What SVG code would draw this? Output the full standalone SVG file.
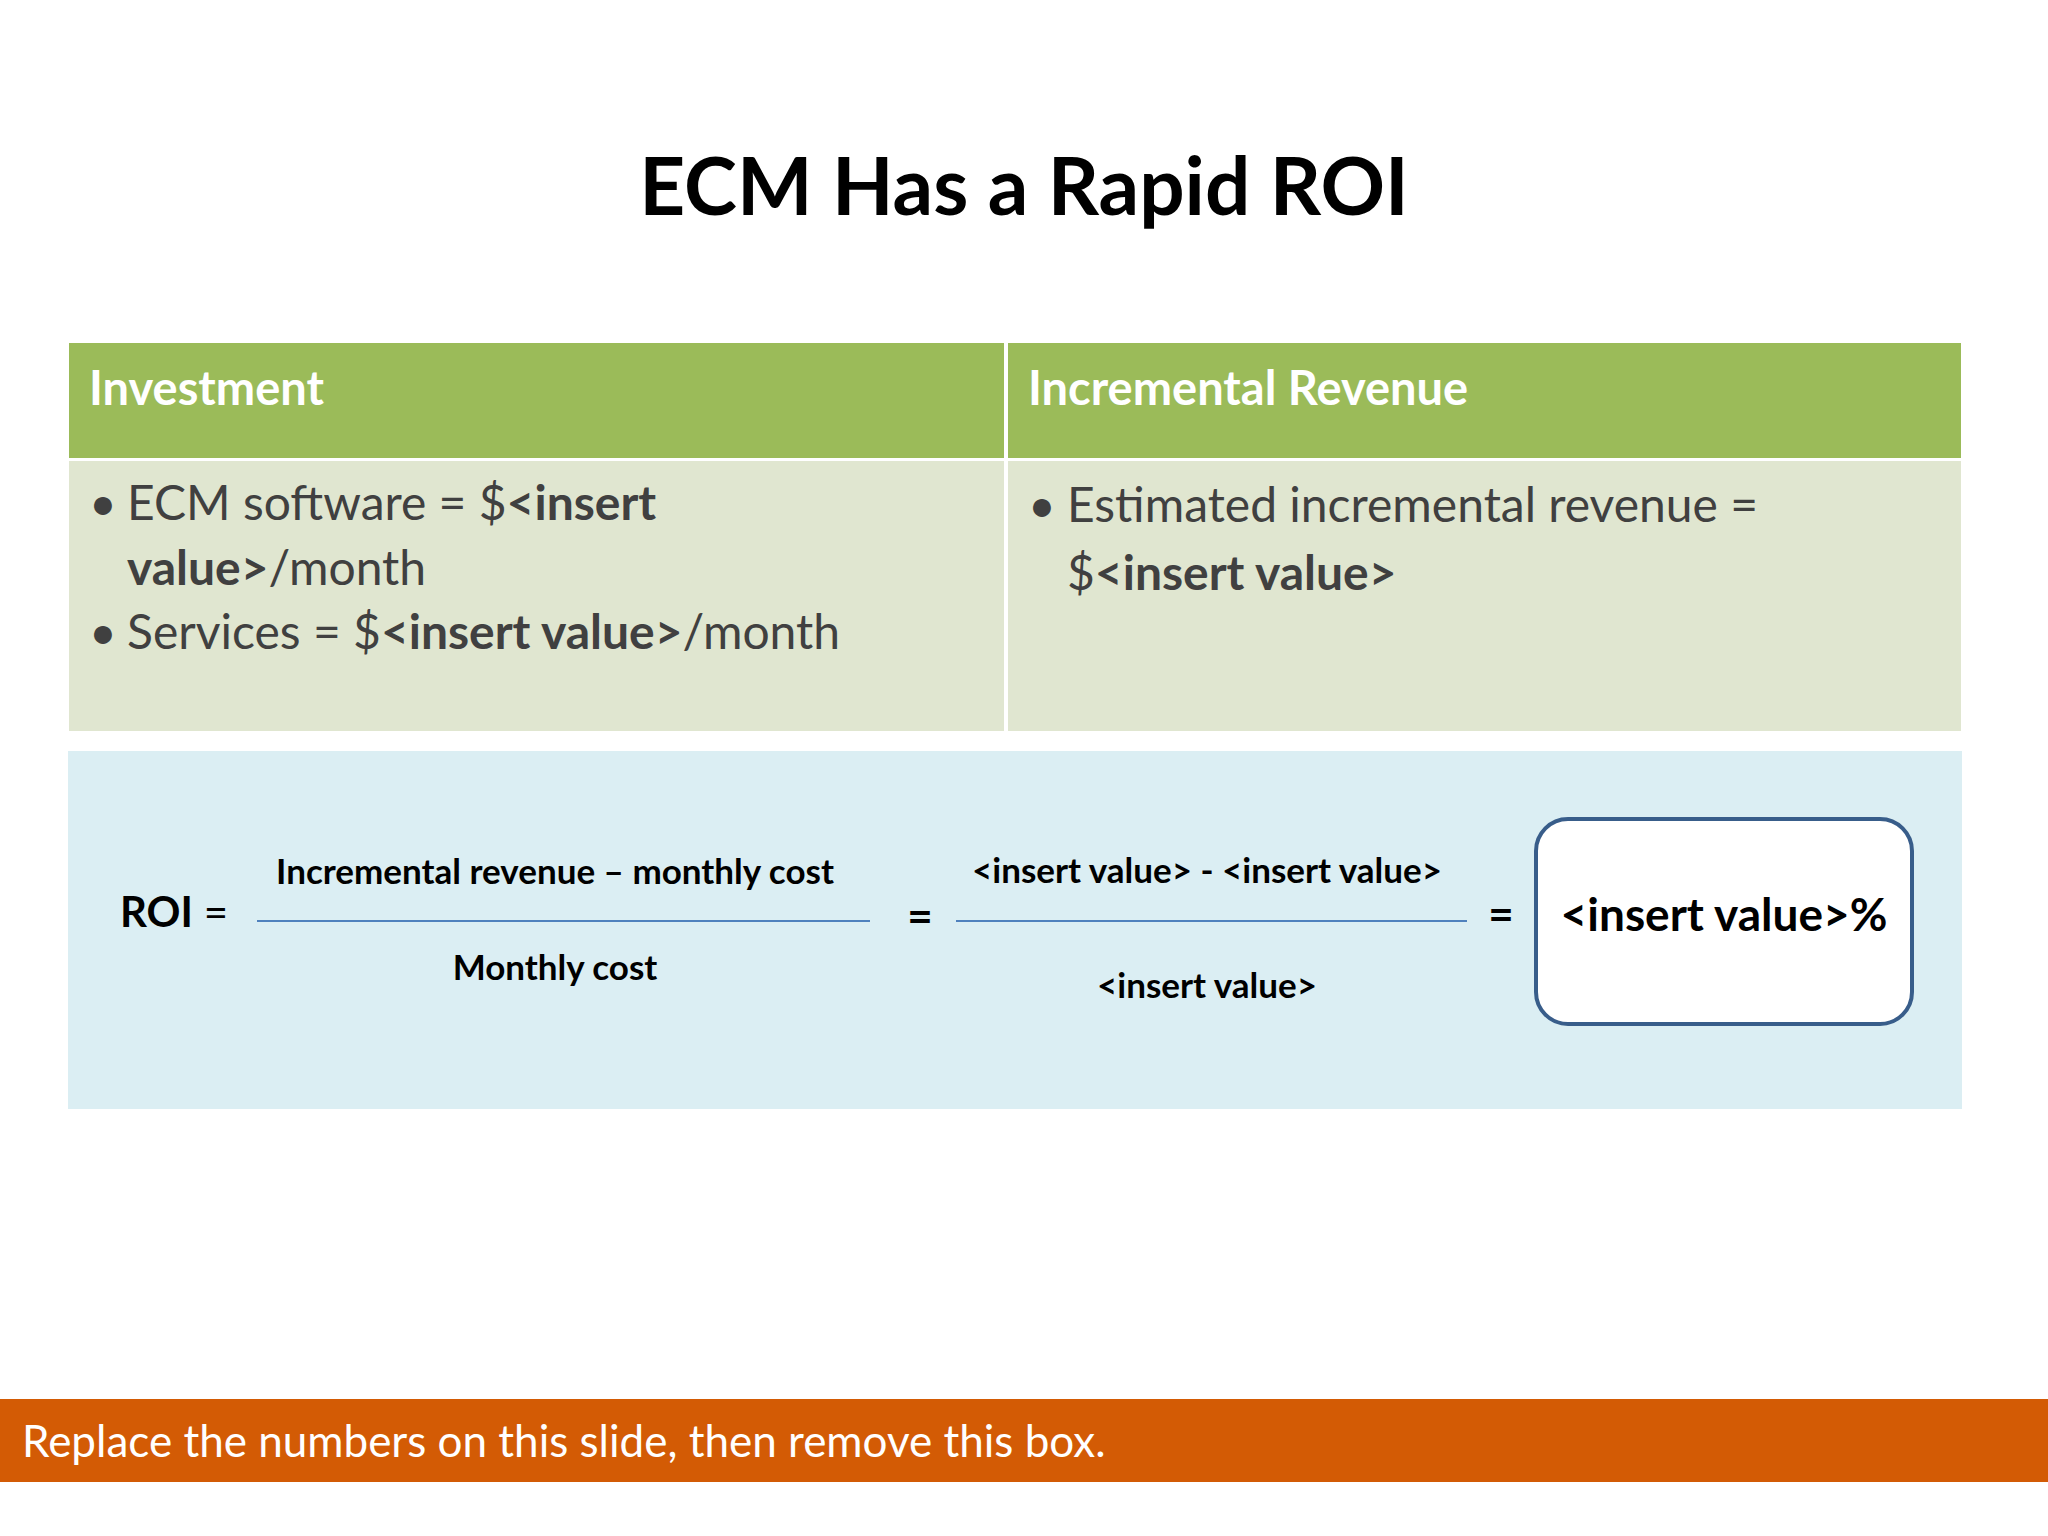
<svg xmlns="http://www.w3.org/2000/svg" width="2048" height="1536" viewBox="0 0 2048 1536">
<style>
text{font-family:Lato,"Open Sans",sans-serif}
.h{font-size:47px;font-weight:bold;fill:#fff}
.b{font-size:48px;fill:#404040}
.f{font-size:35px;font-weight:bold;fill:#000;text-anchor:middle}
.eq{font-size:44px;font-weight:bold;fill:#000;text-anchor:middle}
</style>
<rect width="2048" height="1536" fill="#fff"/>
<text x="1024" y="215" text-anchor="middle" font-size="80" font-weight="bold" fill="#000">ECM Has a Rapid ROI</text>
<g id="table">
<rect x="69" y="343" width="1892" height="388" fill="#fff"/>
<rect x="69" y="343" width="935" height="115" fill="#9BBB59"/>
<rect x="1008" y="343" width="953" height="115" fill="#9BBB59"/>
<rect x="69" y="461" width="935" height="270" fill="#E0E6D0"/>
<rect x="1008" y="461" width="953" height="270" fill="#E0E6D0"/>
<text class="h" x="89" y="405">Investment</text>
<text class="h" x="1028" y="405">Incremental Revenue</text>
<text class="b" x="89" y="520">•</text>
<text class="b" x="127" y="520">ECM software = $<tspan font-weight="bold">&lt;insert</tspan></text>
<text class="b" x="127" y="585"><tspan font-weight="bold">value&gt;</tspan>/month</text>
<text class="b" x="89" y="649">•</text>
<text class="b" x="127" y="649">Services = $<tspan font-weight="bold">&lt;insert value&gt;</tspan>/month</text>
<text class="b" x="1028" y="522">•</text>
<text class="b" x="1067" y="522">Estimated incremental revenue =</text>
<text class="b" x="1067" y="590">$<tspan font-weight="bold">&lt;insert value&gt;</tspan></text>
</g>
<g id="formula">
<rect x="68" y="751" width="1894" height="358" fill="#DBEEF3"/>
<text x="120" y="927" font-size="42" fill="#000"><tspan font-weight="bold">ROI</tspan> =</text>
<text class="f" x="555" y="884">Incremental revenue – monthly cost</text>
<line x1="257" y1="921" x2="870" y2="921" stroke="#4F81BD" stroke-width="2"/>
<text class="f" x="555" y="980">Monthly cost</text>
<text class="eq" x="920" y="932">=</text>
<text class="f" x="1207" y="883" font-size="33">&lt;insert value&gt; - &lt;insert value&gt;</text>
<line x1="956" y1="921" x2="1467" y2="921" stroke="#4F81BD" stroke-width="2"/>
<text class="f" x="1207" y="998" font-size="33">&lt;insert value&gt;</text>
<text class="eq" x="1501" y="930">=</text>
</g>
<g id="result">
<rect x="1536" y="819" width="376" height="205" rx="32" fill="#fff" stroke="#385D8A" stroke-width="4"/>
<text x="1724" y="931" text-anchor="middle" font-size="46" font-weight="bold" fill="#000">&lt;insert value&gt;%</text>
</g>
<g id="note">
<rect x="0" y="1399" width="2048" height="83" fill="#D35B05"/>
<text x="22" y="1457" font-size="44" fill="#fff">Replace the numbers on this slide, then remove this box.</text>
</g>
</svg>
